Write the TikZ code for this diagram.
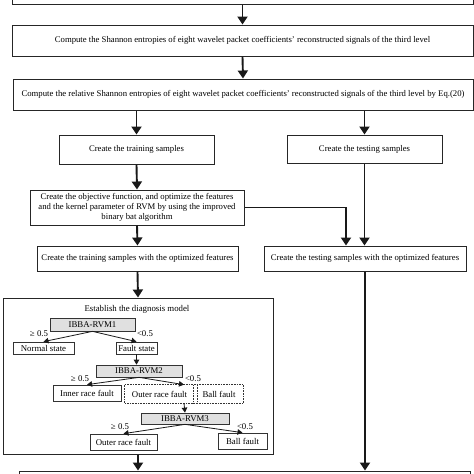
\documentclass[tikz,border=0pt]{standalone}
\usepackage{fontspec}
\setmainfont{Liberation Serif}
\usetikzlibrary{arrows.meta}
\begin{document}
\begin{tikzpicture}[x=1pt,y=-1pt,
  box/.style={draw=black!85, line width=1pt, inner sep=0pt, align=center,
    font=\fontsize{8.7}{10}\selectfont},
  mbox/.style={draw=black!80, line width=0.7pt, inner sep=0pt, align=center,
    font=\fontsize{8.8}{9}\selectfont},
  gbox/.style={mbox, fill=black!12},
  lbl/.style={inner sep=0pt, font=\fontsize{8.8}{9}\selectfont},
  bigarrow/.style={-{Triangle[length=8pt,width=10pt]}, line width=1.9pt, draw=black!90},
  smallarrow/.style={-{Triangle[length=5pt,width=5.5pt]}, line width=0.8pt, draw=black!90}]
\useasboundingbox (0,0) rectangle (474,474);
\clip (0,0) rectangle (474,474);
% main boxes
\node[box, minimum width=461pt, minimum height=30pt] (top) at (242.5,-11) {};
\node[box, minimum width=461pt, minimum height=31pt] (b1) at (242.5,40.5)
  {Compute the Shannon entropies of eight wavelet packet coefficients' reconstructed signals of the third level};
\node[box, minimum width=460pt, minimum height=31pt] (b2) at (243,94.5)
  {Compute the relative Shannon entropies of eight wavelet packet coefficients' reconstructed signals of the third level by Eq.(20)};
\node[box, minimum width=155pt, minimum height=29pt] (train) at (136.5,149.5) {Create the training samples};
\node[box, minimum width=155pt, minimum height=28pt] (test) at (364.5,149) {Create the testing samples};
\node[box, minimum width=214pt, minimum height=35pt] (obj) at (137,207.5)
  {Create the objective function, and optimize the features\\and the kernel parameter of RVM by using the improved\\binary bat algorithm};
\node[box, minimum width=201pt, minimum height=25pt] (trainopt) at (137.5,258.5) {Create the training samples with the optimized features};
\node[box, minimum width=202pt, minimum height=25pt] (testopt) at (365,258.5) {Create the testing samples with the optimized features};
\node[box, minimum width=270pt, minimum height=156pt] (model) at (138,376) {};
\node[box, minimum width=451pt, minimum height=30pt] (bottom) at (244.5,486) {};
% main arrows
\draw[bigarrow] (top.south) -- (b1.north);
\draw[bigarrow] (b1.south) -- (b2.north);
\draw[bigarrow] (b2.south -| train.north) -- (train.north);
\draw[bigarrow] (b2.south -| test.north) -- (test.north);
\draw[bigarrow] (train.south) -- (obj.north);
\draw[bigarrow] (test.south) -- (test.south |- testopt.north);
\draw[bigarrow] (obj.east) -| ([xshift=-19pt]testopt.north);
\draw[bigarrow] (obj.south) -- (trainopt.north);
\draw[bigarrow] (trainopt.south) -- (model.north);
\draw[bigarrow] (model.south) -- (model.south |- bottom.north);
\draw[bigarrow] (testopt.south) -- (testopt.south |- bottom.north);
% diagnosis model
\node[lbl] (title) at (137,309) {Establish the diagnosis model};
\node[gbox, minimum width=85pt, minimum height=13pt] (r1) at (92.5,324.5) {IBBA-RVM1};
\node[mbox, minimum width=61pt, minimum height=12pt] (normal) at (43.5,348) {Normal state};
\node[mbox, minimum width=41pt, minimum height=12pt] (fault) at (136.5,348) {Fault state};
\node[gbox, minimum width=86pt, minimum height=12pt] (r2) at (139,371) {IBBA-RVM2};
\node[mbox, minimum width=68pt, minimum height=16pt] (inner) at (87,393) {Inner race fault};
\node[mbox, draw=none, minimum width=118pt, minimum height=18pt] (grp) at (184,394) {};
\draw[black!80, line width=0.8pt, dash pattern=on 0.8pt off 0.8pt] (grp.north west) rectangle (grp.south east);
\coordinate (d1) at (193.5,385);
\coordinate (d2) at (197,385);
\draw[black!80, line width=0.8pt, dash pattern=on 0.8pt off 0.8pt] (d1) -- (d1 |- grp.south);
\draw[black!80, line width=0.8pt, dash pattern=on 0.8pt off 0.8pt] (d2) -- (d2 |- grp.south);
\node[lbl] (orf) at (159.5,394) {Outer race fault};
\node[lbl] (bf) at (219,394) {Ball fault};
\node[gbox, minimum width=88pt, minimum height=11pt] (r3) at (185,418.5) {IBBA-RVM3};
\node[mbox, minimum width=67pt, minimum height=16pt] (outer) at (123.5,442) {Outer race fault};
\node[mbox, minimum width=49pt, minimum height=16pt] (ball) at (242.5,441) {Ball fault};
% inner arrows
\draw[smallarrow] (r1.south) -- (normal.north);
\draw[smallarrow] (r1.south) -- (fault.north);
\draw[smallarrow] (fault.south) -- (fault.south |- r2.north);
\draw[smallarrow] (r2.south) -- (inner.north);
\draw[smallarrow] (r2.south) -- (grp.north);
\draw[smallarrow] (grp.south) -- (r3.north);
\draw[smallarrow] (r3.south) -- (outer.north);
\draw[smallarrow] (r3.south) -- (ball.north);
% labels
\node[lbl] (l1) at (39,334) {≥ 0.5};
\node[lbl] (l2) at (145,334) {<0.5};
\node[lbl] (l3) at (80,379) {≥ 0.5};
\node[lbl] (l4) at (193,379) {<0.5};
\node[lbl] (l5) at (120,427) {≥ 0.5};
\node[lbl] (l6) at (245,427) {<0.5};
\end{tikzpicture}
\end{document}
